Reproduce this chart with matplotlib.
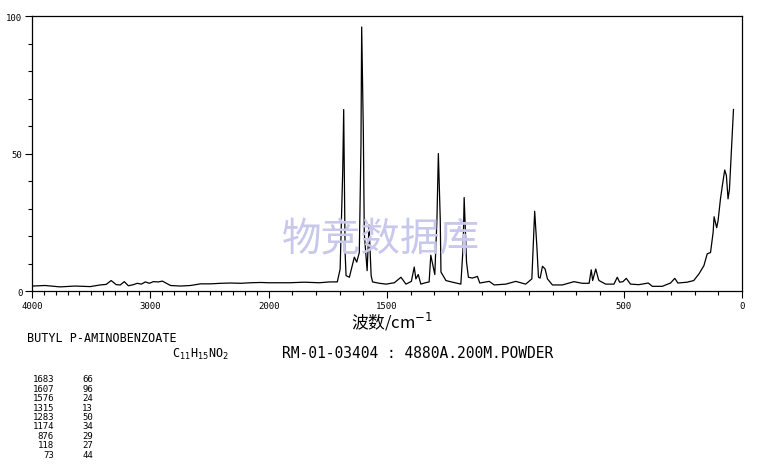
import numpy as np
import matplotlib
matplotlib.use('Agg')
import matplotlib.pyplot as plt

# Raman spectrum (wavenumber cm-1, intensity)
wavenumber = [4000, 3890, 3763, 3636, 3508, 3424, 3373, 3331, 3288, 3254,
              3220, 3186, 3144, 3110, 3076, 3042, 3008, 2975, 2932, 2898,
              2864, 2830, 2746, 2661, 2576, 2492, 2407, 2322, 2237, 2152,
              2068, 2000, 1975, 1912, 1849, 1786, 1743, 1710, 1698, 1687,
              1683, 1677, 1673, 1659, 1638, 1628, 1617, 1610, 1607, 1600,
              1596, 1584, 1576, 1567, 1561, 1532, 1504, 1469, 1441, 1420,
              1397, 1385, 1378, 1368, 1357, 1338, 1322, 1315, 1298, 1289,
              1283, 1275, 1272, 1251, 1223, 1188, 1178, 1174, 1164, 1156,
              1139, 1118, 1108, 1068, 1047, 998, 956, 914, 888, 879,
              876, 867, 860, 853, 843, 832, 822, 801, 759, 710,
              675, 646, 637, 631, 618, 607, 604, 576, 541, 527,
              517, 503, 489, 471, 436, 396, 379, 337, 302, 284,
              271, 232, 204, 182, 161, 147, 133, 122, 118, 107,
              101, 91, 81, 73, 66, 59, 53, 45, 39, 36]
intensity = [1.8, 2.0, 1.5, 1.8, 1.6, 2.2, 2.4, 3.8, 2.3, 2.2,
             3.4, 1.9, 2.3, 2.8, 2.5, 3.3, 2.8, 3.4, 3.3, 3.6,
             2.8, 2.0, 1.8, 2.0, 2.6, 2.6, 2.8, 2.9, 2.8, 3.0,
             3.1, 3.0, 3.0, 3.0, 3.2, 3.0, 3.3, 3.3, 8.0, 44.0,
             66.0, 14.0, 5.6, 5.0, 12.3, 10.5, 14.0, 53.0, 96.0, 58.0,
             21.0, 7.4, 24.0, 5.6, 3.3, 2.8, 2.5, 3.0, 5.0, 2.5,
             3.5, 8.7, 4.4, 6.0, 2.5, 3.0, 3.3, 13.0, 6.0, 26.0,
             50.0, 26.0, 6.9, 3.8, 3.2, 2.5, 16.5, 34.0, 10.5, 5.0,
             4.7, 5.3, 2.9, 3.5, 2.2, 2.5, 3.5, 2.5, 4.4, 22.5,
             29.0, 16.5, 5.0, 4.7, 9.0, 8.0, 4.4, 2.2, 2.2, 3.4,
             2.8, 2.8, 7.7, 3.8, 8.0, 4.4, 3.8, 2.5, 2.5, 5.0,
             3.2, 3.4, 4.6, 2.5, 2.3, 2.9, 1.7, 1.7, 2.9, 4.6,
             2.9, 3.2, 3.8, 6.2, 9.2, 13.5, 14.0, 21.3, 27.0, 23.0,
             25.6, 33.5, 39.5, 44.0, 42.0, 33.5, 37.0, 50.4, 60.0, 66.0]

x_major = [4000, 3000, 2000, 1500, 500, 0]
x_major_labels = ['4000', '3000', '2000', '1500', '500', '0']
y_major = [0, 50, 100]

peak_pos = ['1683', '1607', '1576', '1315', '1283', '1174', '876', '118', '73']
peak_int = ['66', '96', '24', '13', '50', '34', '29', '27', '44']


def fwd(w):
    w = np.asarray(w, dtype=float)
    return np.where(w > 2000, 2000 + (w - 2000) / 2.0, w)


def inv(u):
    u = np.asarray(u, dtype=float)
    return np.where(u > 2000, 2000 + (u - 2000) * 2.0, u)


fig = plt.figure(figsize=(7.61, 4.77), dpi=100)
ax = fig.add_axes([32 / 761, 1 - 292 / 477, 710 / 761, 275 / 477])
ax.set_xscale('function', functions=(fwd, inv))
ax.plot(wavenumber, intensity, color='black', lw=0.9)
ax.set_xlim(4000, 0)
ax.set_ylim(0, 100)

ax.set_xticks(x_major)
ax.set_xticklabels(x_major_labels)
ax.set_xticks(np.arange(0, 4001, 100), minor=True)
ax.set_yticks(y_major)
ax.set_yticks(np.arange(0, 101, 10), minor=True)
ax.tick_params(which='major', length=5, width=0.8, labelsize=6.5, pad=2)
ax.tick_params(which='minor', length=3, width=0.8)
for lab in ax.get_xticklabels() + ax.get_yticklabels():
    lab.set_family('DejaVu Sans Mono')
for sp in ax.spines.values():
    sp.set_linewidth(0.9)

# watermark
fig.text(381 / 761, 1 - 239 / 477, '物竞数据库', family=['Noto Sans CJK SC'],
         fontsize=28.5, color='#c8c8ec', ha='center', va='center', zorder=0)

fig.text(392 / 761, 1 - 322 / 477, '波数/cm$^{-1}$',
         family=['Noto Sans CJK SC', 'DejaVu Sans'], fontsize=12,
         ha='center', va='center')

mono = 'DejaVu Sans Mono'
fig.text(27 / 761, 1 - 339 / 477, 'BUTYL P-AMINOBENZOATE', family=mono,
         fontsize=8.5, ha='left', va='center')
fig.text(172 / 761, 1 - 354 / 477, r'C$_{11}$H$_{15}$NO$_{2}$', family=mono,
         fontsize=8.5, ha='left', va='center')
fig.text(282 / 761, 1 - 354 / 477, 'RM-01-03404 : 4880A.200M.POWDER',
         family=mono, fontsize=10.5, ha='left', va='center')

for i, (p, v) in enumerate(zip(peak_pos, peak_int)):
    yy = 1 - (380 + i * 9.4) / 477
    fig.text(54 / 761, yy, p, family=mono, fontsize=6.5, ha='right', va='center')
    fig.text(93 / 761, yy, v, family=mono, fontsize=6.5, ha='right', va='center')

fig.savefig('out.png', dpi=100)
